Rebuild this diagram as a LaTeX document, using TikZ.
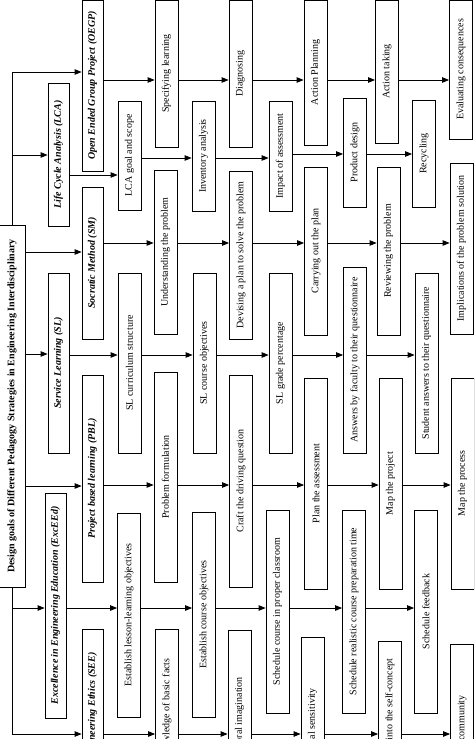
\documentclass[tikz,border=0pt]{standalone}
\usepackage{fontspec}
\setmainfont{Liberation Serif}
\usepackage{tikz}
\usetikzlibrary{arrows.meta}

\begin{document}
\begin{tikzpicture}[x=1pt,y=-1pt,>={Triangle[length=7pt,width=5.5pt]},thick]
 \tikzstyle{goalbox}=[draw, rotate=90, inner sep=0pt, minimum height=26pt, font=\bfseries]
 \tikzstyle{stratbox}=[draw, rotate=90, inner sep=0pt, minimum height=21pt, font=\bfseries\itshape]
 \tikzstyle{stepbox}=[draw, rotate=90, inner sep=0pt, minimum height=23pt]
 \tikzstyle{cut}=[minimum width=0pt, anchor=east]
 \useasboundingbox (0,0) rectangle (474,739);
 \clip (0,0) rectangle (474,739);

 % root
 \node[goalbox, minimum width=362pt] (root) at (12,406)
   {Design goals of Different Pedagogy Strategies in Engineering Interdisciplinary};

 % Open Ended Group Project
 \node[stratbox, minimum width=171pt] (oegp)  at (92.5,85.5) {Open Ended Group Project (OEGP)};
 \node[stepbox, minimum width=147pt]  (spec)  at (166.5,73.5) {Specifying learning};
 \node[stepbox, minimum width=147pt]  (diag)  at (240.5,73.5) {Diagnosing};
 \node[stepbox, minimum width=145pt]  (aplan) at (315.5,72.5) {Action Planning};
 \node[stepbox, minimum width=143pt]  (atake) at (387,71.5) {Action taking};
 \node[stepbox, minimum width=139pt]  (evalc) at (461,69.5) {Evaluating consequences};

 % Life Cycle Analysis
 \node[stratbox, minimum width=143pt] (lca)     at (58.5,154.5) {Life Cycle Analysis (LCA)};
 \node[stepbox, minimum width=109pt]  (lcagoal) at (129.5,155.5) {LCA goal and scope};
 \node[stepbox, minimum width=110pt]  (inv)     at (203.5,156) {Inventory analysis};
 \node[stepbox, minimum width=110pt]  (impact)  at (280.5,156) {Impact of assessment};
 \node[stepbox, minimum width=109pt]  (pdes)    at (355,152.5) {Product design};
 \node[stepbox, minimum width=107pt]  (recyc)   at (424,153.5) {Recycling};

 % Socratic Method
 \node[stratbox, minimum width=152pt] (sm)     at (92.5,263) {Socratic Method (SM)};
 \node[stepbox, minimum width=164pt]  (und)    at (165.5,252) {Understanding the problem};
 \node[stepbox, minimum width=168pt]  (devise) at (241,255) {Devising a plan to solve the problem};
 \node[stepbox, minimum width=168pt]  (carry)  at (316,251) {Carrying out the plan};
 \node[stepbox, minimum width=168pt]  (review) at (388.5,251) {Reviewing the problem};
 \node[stepbox, minimum width=171pt]  (implic) at (461.5,248.5) {Implications of the problem solution};

 % Service Learning
 \node[stratbox, minimum width=180pt] (sl)      at (58.5,363) {Service Learning (SL)};
 \node[stepbox, minimum width=180pt]  (slcur)   at (129.5,363) {SL curriculum structure};
 \node[stepbox, minimum width=180pt]  (slobj)   at (204.5,363) {SL course objectives};
 \node[stepbox, minimum width=180pt]  (slgrade) at (280.5,363) {SL grade percentage};
 \node[stepbox, minimum width=186pt]  (faculty) at (355,360) {Answers by faculty to their questionnaire};
 \node[stepbox, minimum width=180pt]  (student) at (426.5,363) {Student answers to their questionnaire};

 % Project based learning
 \node[stratbox, minimum width=207pt] (pbl)     at (92.5,478.5) {Project based learning (PBL)};
 \node[stepbox, minimum width=210pt]  (probf)   at (165.5,477) {Problem formulation};
 \node[stepbox, minimum width=212pt]  (craft)   at (241,481) {Craft the driving question};
 \node[stepbox, minimum width=211pt]  (plana)   at (316,483.5) {Plan the assessment};
 \node[stepbox, minimum width=211pt]  (mapproj) at (390.5,483.5) {Map the project};
 \node[stepbox, minimum width=211pt]  (mapproc) at (462.5,483.5) {Map the process};

 % Excellence in Engineering Education
 \node[stratbox, minimum width=225pt] (exceed)    at (55.5,605.5)
   {\makebox[198pt][s]{Excellence in Engineering Education (ExcEEd)}};
 \node[stepbox, minimum width=204pt]  (lesson)    at (129,615) {Establish lesson-learning objectives};
 \node[stepbox, minimum width=205pt]  (courseobj) at (204,614.5) {Establish course objectives};
 \node[stepbox, minimum width=203pt]  (schedroom) at (277.5,611.5) {Schedule course in proper classroom};
 \node[stepbox, minimum width=203pt]  (schedprep) at (354,611.5) {Schedule realistic course preparation time};
 \node[stepbox, minimum width=203pt]  (schedfb)   at (426,611.5) {Schedule feedback};

 % Science and Engineering Ethics (runs off the bottom)
 \node[stratbox, cut, inner xsep=23pt] (see)    at (92.5,629) {Science and Engineering Ethics (SEE)};
 \node[stepbox, cut, inner xsep=29pt]  (know)   at (167,629) {Knowledge of basic facts};
 \node[stepbox, cut, inner xsep=47pt]  (imag)   at (239.5,630) {Moral imagination};
 \node[stepbox, cut, inner xsep=51pt]  (sens)   at (312.5,637) {Ethical sensitivity};
 \node[stepbox, cut, inner xsep=17pt]  (selfc)  at (390,641) {Integrating ethics into the self-concept};
 \node[stepbox, cut, inner xsep=51pt]  (commun) at (462,644) {Ethical community};

 % taps and rows
 \coordinate (oegpTap) at (12,72);
 \coordinate (lcaTap)  at (12,155);
 \coordinate (smTap)   at (0,252);
 \coordinate (slTap)   at (0,354);
 \coordinate (pblTap)  at (0,486);
 \coordinate (exTap)   at (12,608);
 \coordinate (seeTap)  at (12,734);
 \coordinate (oegpRow) at (0,80);
 \coordinate (lcaIn)   at (0,175);
 \coordinate (lcaRowA) at (0,158);
 \coordinate (lcaRowB) at (0,154);
 \coordinate (smRow)   at (0,243);
 \coordinate (slRow)   at (0,355);
 \coordinate (pblRow)  at (0,485);
 \coordinate (exRow)   at (0,608);

 % trunk
 \draw (oegpTap) -- (root.east);
 \draw (root.west) -- (seeTap);

 % branches
 \path[->] (oegpTap) edge (oegpTap -| oegp.north)
           (lcaTap) edge (lcaTap -| lca.north)
           (root.south |- smTap) edge (sm.north |- smTap)
           (root.south |- slTap) edge (sl.north |- slTap)
           (root.south |- pblTap) edge (pbl.north |- pblTap)
           (exTap) edge (exTap -| exceed.north)
           (seeTap) edge (seeTap -| see.north);

 % chains
 \path[->] (oegp.south |- oegpRow) edge (spec.north |- oegpRow)
           (spec.south |- oegpRow) edge (diag.north |- oegpRow)
           (diag.south |- oegpRow) edge (aplan.north |- oegpRow)
           (aplan.south |- oegpRow) edge (atake.north |- oegpRow)
           (atake.south |- oegpRow) edge (evalc.north |- oegpRow);
 \path[->] (lca.south |- lcaIn) edge (lcagoal.north |- lcaIn)
           (lcagoal.south |- lcaRowA) edge (inv.north |- lcaRowA)
           (inv.south |- lcaRowA) edge (impact.north |- lcaRowA)
           (impact.south |- lcaRowB) edge (pdes.north |- lcaRowB)
           (pdes.south |- lcaRowB) edge (recyc.north |- lcaRowB);
 \path[->] (sm.south |- smRow) edge (und.north |- smRow)
           (und.south |- smRow) edge (devise.north |- smRow)
           (devise.south |- smRow) edge (carry.north |- smRow)
           (carry.south |- smRow) edge (review.north |- smRow)
           (review.south |- smRow) edge (implic.north |- smRow);
 \path[->] (sl.south |- slRow) edge (slcur.north |- slRow)
           (slcur.south |- slRow) edge (slobj.north |- slRow)
           (slobj.south |- slRow) edge (slgrade.north |- slRow)
           (slgrade.south |- slRow) edge (faculty.north |- slRow)
           (faculty.south |- slRow) edge (student.north |- slRow);
 \path[->] (pbl.south |- pblRow) edge (probf.north |- pblRow)
           (probf.south |- pblRow) edge (craft.north |- pblRow)
           (craft.south |- pblRow) edge (plana.north |- pblRow)
           (plana.south |- pblRow) edge (mapproj.north |- pblRow)
           (mapproj.south |- pblRow) edge (mapproc.north |- pblRow);
 \path[->] (exceed.south |- exRow) edge (lesson.north |- exRow)
           (lesson.south |- exRow) edge (courseobj.north |- exRow)
           (courseobj.south |- exRow) edge (schedroom.north |- exRow)
           (schedroom.south |- exRow) edge (schedprep.north |- exRow)
           (schedprep.south |- exRow) edge (schedfb.north |- exRow);
 \path[->] (see.south |- seeTap) edge (know.north |- seeTap)
           (know.south |- seeTap) edge (imag.north |- seeTap)
           (imag.south |- seeTap) edge (sens.north |- seeTap)
           (sens.south |- seeTap) edge (selfc.north |- seeTap)
           (selfc.south |- seeTap) edge (commun.north |- seeTap);
\end{tikzpicture}
\end{document}
